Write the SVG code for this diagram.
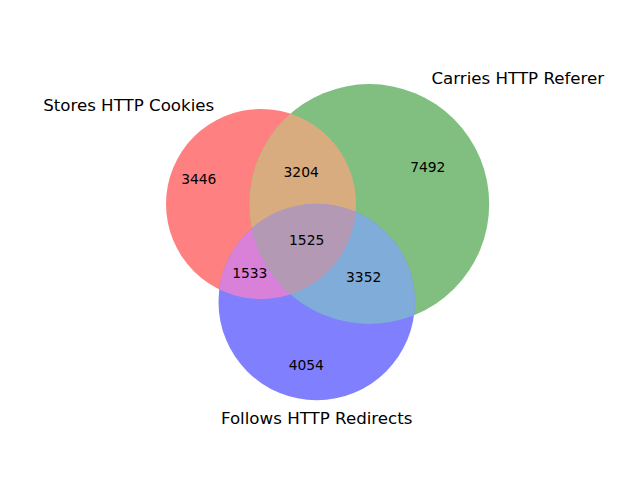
<svg xmlns="http://www.w3.org/2000/svg" width="640" height="480" viewBox="0 0 640 480">
<style>
.set{font-family:"DejaVu Sans","Liberation Sans",sans-serif;font-size:16.67px;fill:#000;text-anchor:middle}
.num{font-family:"DejaVu Sans","Liberation Sans",sans-serif;font-size:13.89px;fill:#000;text-anchor:middle}
</style>
<defs>
<circle id="cA" cx="261" cy="204" r="95"/>
<circle id="cB" cx="369.3" cy="204" r="119.9"/>
<circle id="cC" cx="316.7" cy="302" r="98.2"/>
<clipPath id="clipA"><use href="#cA"/></clipPath>
<clipPath id="clipB"><use href="#cB"/></clipPath>
<clipPath id="clipC"><use href="#cC"/></clipPath>
</defs>
<rect width="640" height="480" fill="#fff"/>
<g id="regions">
<use href="#cA" fill="#ff8080"/>
<use href="#cB" fill="#80bf80"/>
<use href="#cC" fill="#8080ff"/>
<use href="#cA" fill="#d9ac80" clip-path="url(#clipB)"/>
<use href="#cA" fill="#d980d9" clip-path="url(#clipC)"/>
<use href="#cB" fill="#80acd9" clip-path="url(#clipC)"/>
<g clip-path="url(#clipC)"><use href="#cA" fill="#b399b3" clip-path="url(#clipB)"/></g>
</g>
<g id="setA"><text class="set" x="128.7" y="110.7">Stores HTTP Cookies</text></g>
<g id="setB"><text class="set" x="517.8" y="83.5">Carries HTTP Referer</text></g>
<g id="setC"><text class="set" x="316.7" y="424">Follows HTTP Redirects</text></g>
<g id="labels">
<text class="num" x="198.8" y="184.3">3446</text>
<text class="num" x="301.2" y="176.7">3204</text>
<text class="num" x="427.8" y="172.3">7492</text>
<text class="num" x="306.7" y="245.3">1525</text>
<text class="num" x="249.8" y="278">1533</text>
<text class="num" x="363.7" y="282">3352</text>
<text class="num" x="306.3" y="370.3">4054</text>
</g>
<g id="connectors"/>
</svg>
